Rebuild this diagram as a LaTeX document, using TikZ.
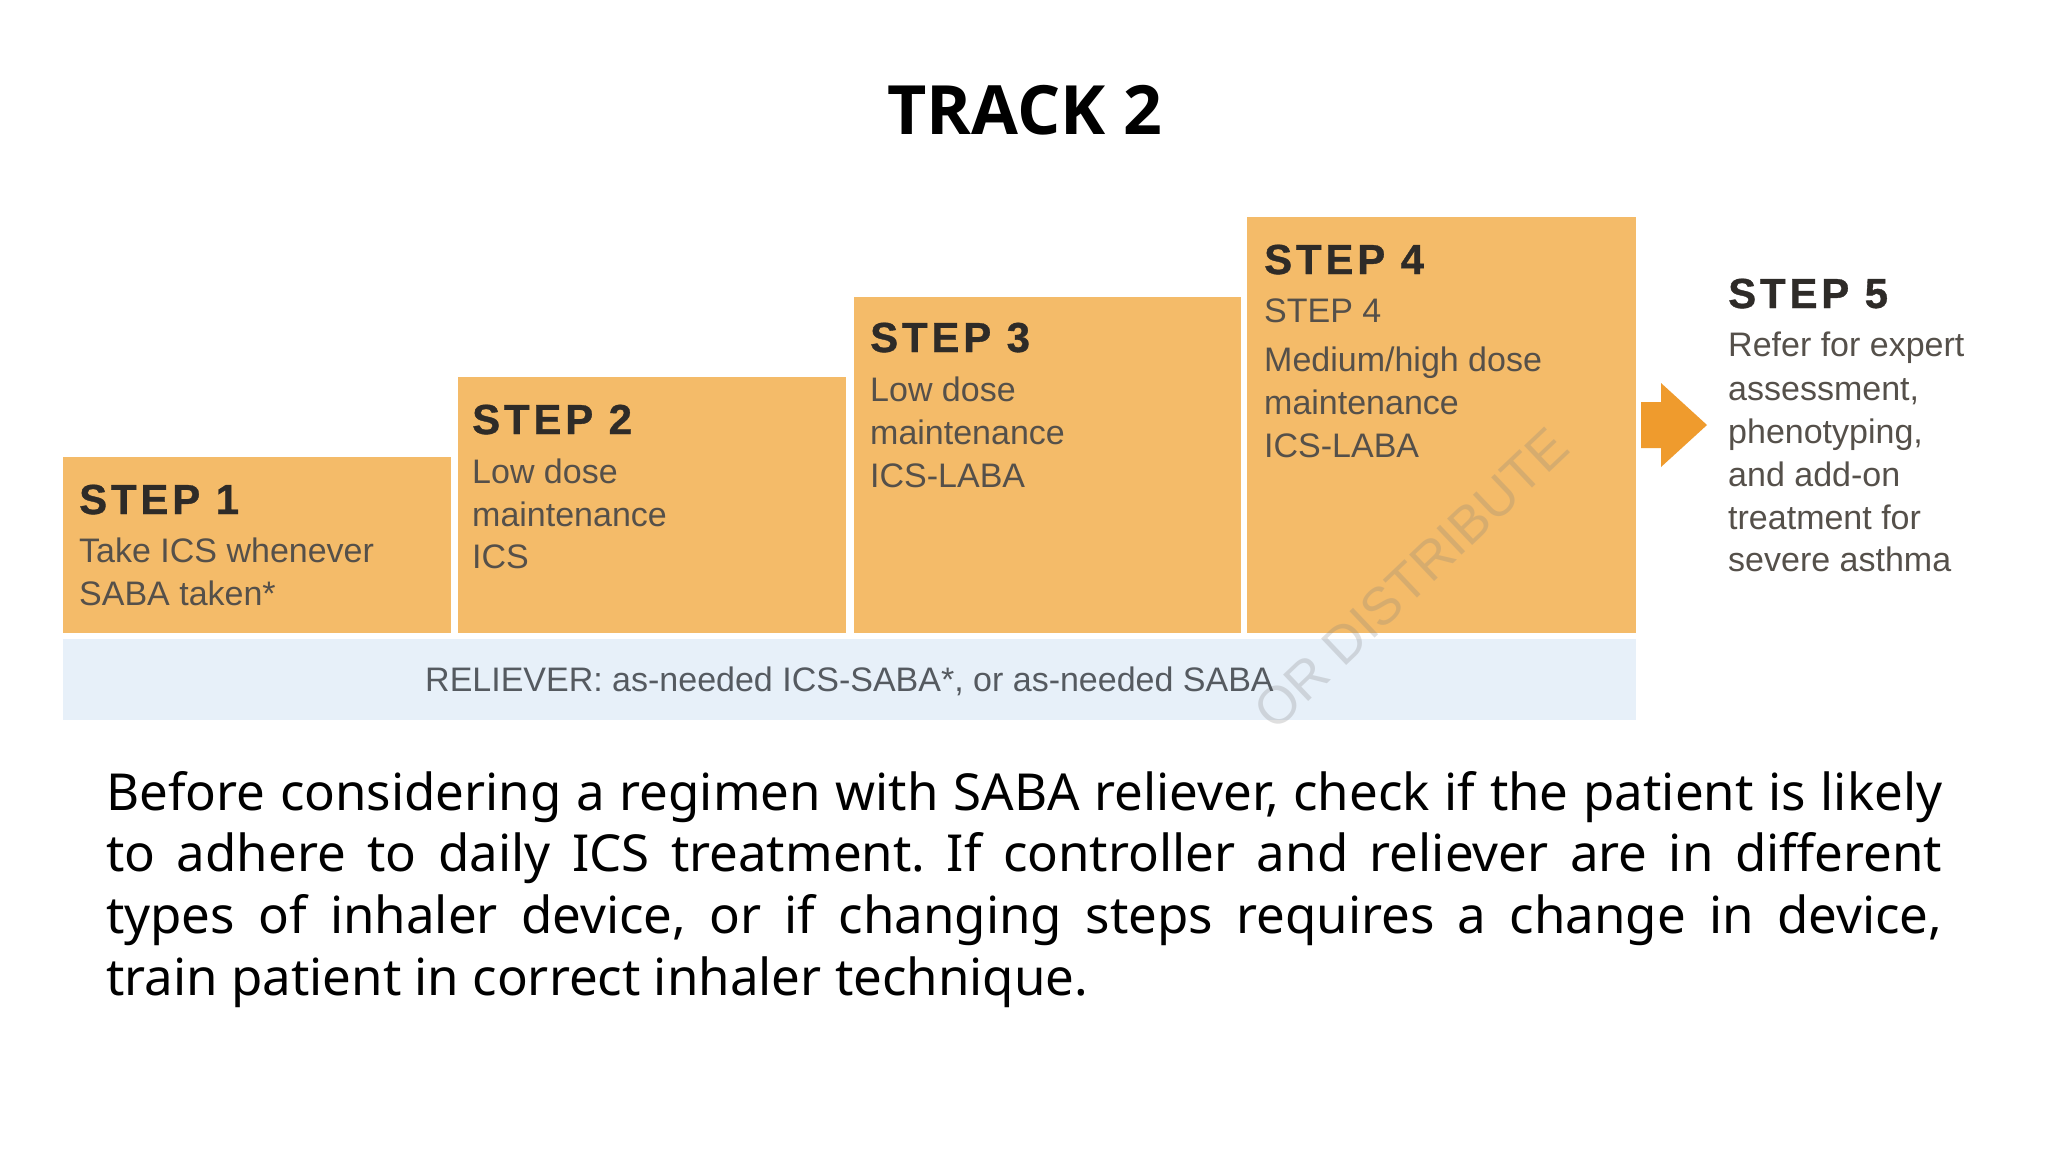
\documentclass[tikz,border=0pt]{standalone}
\usepackage{fontspec}
\setmainfont{Noto Sans}
\newfontfamily\titlef{Open Sans}
\newfontfamily\ar{Liberation Sans}
\newfontfamily\arh{Liberation Sans Bold}[LetterSpace=9,FakeBold=0.8]
\definecolor{stepfill}{HTML}{F4BB69}
\definecolor{relfill}{HTML}{E7F0F9}
\definecolor{arrowfill}{HTML}{EF9B2D}
\definecolor{headc}{HTML}{2E2B28}
\definecolor{subc}{HTML}{55504A}
\definecolor{relc}{HTML}{555A60}
\tikzset{
  x=1pt,y=-1pt,
  stepbox/.style={fill=stepfill,draw=none},
  head/.style={anchor=base west,inner sep=0pt,text=headc,font=\arh\fontsize{42}{42}\selectfont},
  sub/.style={anchor=base west,inner sep=0pt,text=subc,font=\ar\fontsize{34}{34}\selectfont},
}
\begin{document}
\begin{tikzpicture}
\useasboundingbox (0,0) rectangle (2048,1152);
\fill[white] (0,0) rectangle (2048,1152);
\node[anchor=base,inner sep=0pt,font=\titlef\bfseries\fontsize{68}{68}\selectfont] (title) at (1025,134) {TRACK 2};
\fill[stepbox] (63,457) rectangle (451,633);
\fill[stepbox] (458,377) rectangle (846,633);
\fill[stepbox] (854,297) rectangle (1241,633);
\fill[stepbox] (1247,217) rectangle (1636,633);
\fill[relfill] (63,639) rectangle (1636,720);
\fill[arrowfill] (1641,402) -- (1661,402) -- (1661,383) -- (1707,425) -- (1661,467) -- (1661,448) -- (1641,448) -- cycle;
\begin{scope}
\clip (1200,400) rectangle (1636,724);
\node[rotate=43.5,anchor=base west,inner sep=0pt,text=gray,opacity=.25,font=\ar\fontsize{53}{53}\selectfont] (wm) at (1275,733) {OR DISTRIBUTE};
\end{scope}
\node[head] (s1) at (79,514) {STEP 1};
\node[sub] (s1a) at (79,562) {Take ICS whenever};
\node[sub] (s1b) at (79,605) {SABA taken*};
\node[head] (s2) at (472,434) {STEP 2};
\node[sub] (s2a) at (472,483) {Low dose};
\node[sub] (s2b) at (472,526) {maintenance};
\node[sub] (s2c) at (472,568) {ICS};
\node[head] (s3) at (870,352) {STEP 3};
\node[sub] (s3a) at (870,401) {Low dose};
\node[sub] (s3b) at (870,444) {maintenance};
\node[sub] (s3c) at (870,487) {ICS-LABA};
\node[head] (s4) at (1264,274) {STEP 4};
\node[sub] (s4a) at (1264,322) {STEP 4};
\node[sub] (s4b) at (1264,371) {Medium/high dose};
\node[sub] (s4c) at (1264,414) {maintenance};
\node[sub] (s4d) at (1264,457) {ICS-LABA};
\node[head] (s5) at (1728,308) {STEP 5};
\node[sub] (s5a) at (1728,356) {Refer for expert};
\node[sub] (s5b) at (1728,400) {assessment,};
\node[sub] (s5c) at (1728,443) {phenotyping,};
\node[sub] (s5d) at (1728,486) {and add-on};
\node[sub] (s5e) at (1728,529) {treatment for};
\node[sub] (s5f) at (1728,571) {severe asthma};
\node[sub,text=relc] (rel) at (425,691) {RELIEVER: as-needed ICS-SABA*, or as-needed SABA};
\node[anchor=north west,inner sep=0pt,text width=1836pt,align=justify,font=\frenchspacing\fontsize{51}{61.7}\selectfont] (body) at (106,771)
 {Before considering a regimen with SABA reliever, check if the patient is likely\linebreak
  to adhere to daily ICS treatment. If controller and reliever are in different\linebreak
  types of inhaler device, or if changing steps requires a change in device,\linebreak
  train patient in correct inhaler technique.};
\end{tikzpicture}
\end{document}
